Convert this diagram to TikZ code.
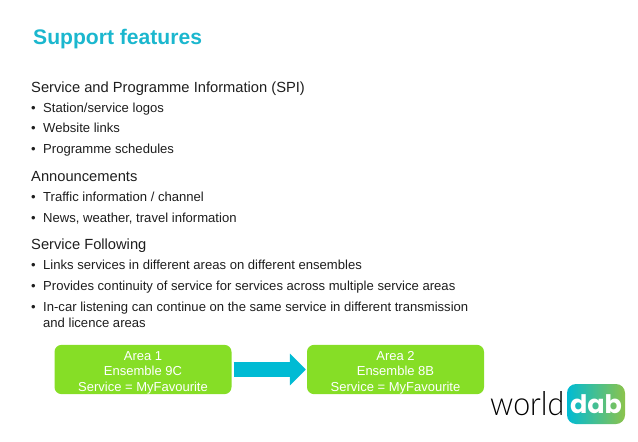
\documentclass[tikz,border=0pt]{standalone}
\usepackage{fontspec}
\setmainfont{Liberation Sans}
\newfontfamily\logofont{Lato Light}
\newfontfamily\dabfont{Poppins}
\usetikzlibrary{arrows.meta}

\definecolor{titleblue}{RGB}{27,183,206}
\definecolor{areagreen}{RGB}{134,222,38}
\definecolor{arrowblue}{RGB}{0,187,212}
\definecolor{logogreen}{RGB}{140,195,75}
\definecolor{bodytext}{RGB}{30,30,30}

\tikzset{
    headline/.style={anchor=base west, font=\fontsize{14.7}{14.7}\selectfont, text=bodytext, inner sep=0pt},
    bulletline/.style={anchor=base west, font=\fontsize{13.08}{13.08}\selectfont, text=bodytext, inner sep=0pt},
    areabox/.style={fill=areagreen, rounded corners=7pt, minimum width=177pt, minimum height=48pt, inner sep=0pt,
        align=center, text=white, font=\fontsize{13}{15.6}\selectfont},
}

\begin{document}
\begin{tikzpicture}[x=1pt, y=1pt]

        % page size
        \useasboundingbox (0,0) rectangle (638,-442);

        % title
        \node[anchor=base west, inner sep=0pt, text=titleblue, font=\fontsize{21.1}{21.1}\selectfont\bfseries] (title) at (33,-44) {Support features};

        % headings
        \node[headline] (spi) at (31,-92) {Service and Programme Information (SPI)};
        \node[headline] (ann) at (31,-181) {Announcements};
        \node[headline] (fol) at (31,-249.5) {Service Following};

        % bullets
        \foreach \y/\txt in {112.5/{Station/service logos}, 132.5/Website links, 153/Programme schedules,
            201.5/{Traffic information / channel}, 222/{News, weather, travel information},
            269.5/Links services in different areas on different ensembles,
            290.5/Provides continuity of service for services across multiple service areas,
            311.5/In-car listening can continue on the same service in different transmission} {
            \node[bulletline] at (31,-\y) {\textbullet};
            \node[bulletline] at (43,-\y) {\txt};
        }
        \node[bulletline] (last) at (43,-327.5) {and licence areas};

        % area boxes, the strut pushes the text a little down
        \node[areabox] (area1) at (143,-369.5) {\rule{0pt}{15.4pt}Area 1\\Ensemble 9C\\Service = MyFavourite};
        \node[areabox] (area2) at (395.5,-369.5) {\rule{0pt}{15.4pt}Area 2\\Ensemble 8B\\Service = MyFavourite};

        % arrow between the boxes
        \draw[-{Triangle[length=16pt, width=31pt]}, line width=15.5pt, arrowblue, shorten <=2pt, shorten >=1pt] (area1) -- (area2);

        % logo
        \node[anchor=base west, inner sep=0pt, text=black, xscale=0.92, transform shape, font=\fontsize{33}{33}\logofont] (world) at (490,-415) {world};
        \node[left color=arrowblue, right color=logogreen, rounded corners=9pt, minimum width=58pt, minimum height=40pt,
            inner sep=0pt, text=white, font=\fontsize{25.5}{25.5}\dabfont\bfseries] (dab) at (596,-404) {dab};

    \end{tikzpicture}
\end{document}
